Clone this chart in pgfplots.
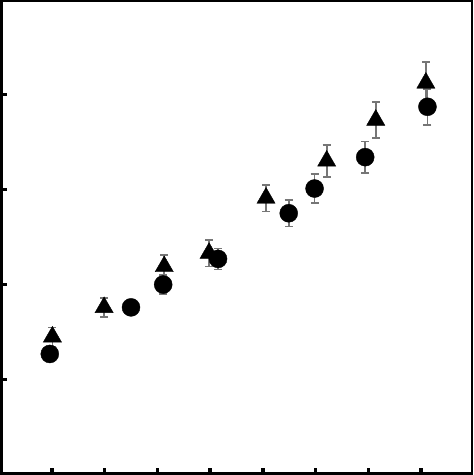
\documentclass[border=0pt]{standalone}
\usepackage{pgfplots}
\pgfplotsset{compat=1.18}
\definecolor{errgray}{HTML}{767676}

\begin{document}
\begin{tikzpicture}
\begin{axis}[
    width=470pt, height=472pt,
    scale only axis,
    xmin=0.04, xmax=8.96,
    ymin=0.01, ymax=4.98,
    xtick={1,2,3,4,5,6,7,8},
    ytick={1,2,3,4},
    xticklabels={}, yticklabels={},
    xtick pos=bottom, ytick pos=left,
    tick align=inside,
    major tick length=6pt,
    tick style={line width=3.5pt, black},
    axis line style={line width=2.5pt, black},
    error bars/error bar style={line width=1.6pt, errgray},
    error bars/error mark options={rotate=90, mark size=4pt, line width=1.6pt, errgray},
]
% triangles
\addplot[only marks, mark=triangle*, mark size=10.5pt, black,
    error bars/.cd, y dir=both, y explicit]
table[x=x, y=y, y error=e] {
x     y      e
1.01  1.45   0.10
1.99  1.76   0.10
3.13  2.19   0.12
3.98  2.33   0.14
5.06  2.91   0.14
6.21  3.30   0.17
7.14  3.73   0.19
8.09  4.12   0.22
};
% circles
\addplot[only marks, mark=*, mark size=9pt, black,
    error bars/.cd, y dir=both, y explicit]
table[x=x, y=y, y error=e] {
x     y      e
0.96  1.27   0.05
2.50  1.76   0.05
3.11  2.00   0.10
4.15  2.27   0.11
5.49  2.75   0.14
5.98  3.01   0.15
6.94  3.34   0.165
8.12  3.87   0.19
};
\end{axis}
\pgfresetboundingbox
\path ([shift={(-1.25pt,-1.25pt)}]current axis.south west) rectangle ([shift={(1.25pt,1.25pt)}]current axis.north east);
\end{tikzpicture}
\end{document}
